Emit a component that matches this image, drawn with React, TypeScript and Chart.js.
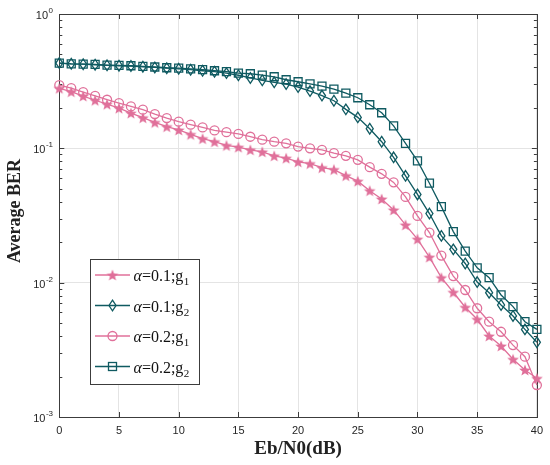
import { useEffect, useRef } from 'react'
import { Chart, registerables, type ChartConfiguration, type Plugin } from 'chart.js'

Chart.register(...registerables)

// Eb/N0 in dB
const snr = [
  0, 1, 2, 3, 4, 5, 6, 7, 8, 9, 10, 11, 12, 13, 14, 15, 16, 17, 18, 19, 20,
  21, 22, 23, 24, 25, 26, 27, 28, 29, 30, 31, 32, 33, 34, 35, 36, 37, 38, 39, 40,
]

// alpha = 0.1, g1 (stars)
const berA1G1 = [
  0.28, 0.264, 0.245, 0.228, 0.213, 0.199, 0.183, 0.169, 0.156, 0.145, 0.137,
  0.127, 0.118, 0.112, 0.105, 0.102, 0.0974, 0.0942, 0.0879, 0.0845, 0.0793,
  0.077, 0.0718, 0.0695, 0.0626, 0.057, 0.0484, 0.042, 0.0348, 0.0269, 0.0211,
  0.0155, 0.0109, 0.00848, 0.00656, 0.00534, 0.00401, 0.00338, 0.00269, 0.00224, 0.00194,
]

// alpha = 0.1, g2 (diamonds)
const berA1G2 = [
  0.431, 0.426, 0.423, 0.419, 0.415, 0.412, 0.41, 0.405, 0.4, 0.395, 0.391,
  0.385, 0.378, 0.372, 0.363, 0.35, 0.334, 0.321, 0.31, 0.301, 0.286,
  0.267, 0.247, 0.226, 0.195, 0.17, 0.14, 0.112, 0.0857, 0.0624, 0.0454,
  0.0327, 0.0223, 0.0177, 0.0139, 0.0101, 0.00842, 0.00682, 0.00565, 0.00449, 0.0036,
]

// alpha = 0.2, g1 (circles)
const berA2G1 = [
  0.295, 0.281, 0.262, 0.246, 0.23, 0.217, 0.205, 0.194, 0.18, 0.168, 0.158,
  0.15, 0.143, 0.136, 0.132, 0.128, 0.122, 0.116, 0.112, 0.109, 0.103,
  0.1, 0.0974, 0.0921, 0.0879, 0.0821, 0.0724, 0.0646, 0.0558, 0.0435, 0.0314,
  0.0236, 0.0159, 0.0112, 0.00882, 0.00645, 0.00512, 0.00431, 0.00343, 0.00281, 0.00173,
]

// alpha = 0.2, g2 (squares)
const berA2G2 = [
  0.431, 0.426, 0.424, 0.421, 0.417, 0.414, 0.412, 0.407, 0.403, 0.398, 0.396,
  0.391, 0.385, 0.378, 0.372, 0.363, 0.359, 0.351, 0.341, 0.324, 0.313,
  0.302, 0.29, 0.276, 0.258, 0.238, 0.211, 0.184, 0.147, 0.109, 0.0807,
  0.055, 0.0368, 0.024, 0.0172, 0.0129, 0.0109, 0.0081, 0.00663, 0.00512, 0.00449,
]

const xTicks = [0, 5, 10, 15, 20, 25, 30, 35, 40]
const yExponents = [0, -1, -2, -3]
const legendAlphas = ['0.1', '0.1', '0.2', '0.2']
const legendGains = ['1', '2', '1', '2']

const pink = '#e0709a'
const teal = '#0f5a61'
const axisColor = '#3c3c3c'
const gridColor = '#e4e4e4'

function makeStar() {
  const c = document.createElement('canvas')
  c.width = 14
  c.height = 14
  const ctx = c.getContext('2d')!
  ctx.fillStyle = pink
  ctx.beginPath()
  for (let i = 0; i < 10; i++) {
    const r = i % 2 === 0 ? 6.2 : 2.6
    const a = -Math.PI / 2 + (i * Math.PI) / 5
    const px = 7 + r * Math.cos(a)
    const py = 7.6 + r * Math.sin(a)
    if (i === 0) ctx.moveTo(px, py)
    else ctx.lineTo(px, py)
  }
  ctx.closePath()
  ctx.fill()
  return c
}

// tall hollow diamond, like the matlab 'd' marker
function strokeDiamond(ctx: CanvasRenderingContext2D, x: number, y: number) {
  ctx.beginPath()
  ctx.moveTo(x, y - 5.3)
  ctx.lineTo(x + 3.5, y)
  ctx.lineTo(x, y + 5.3)
  ctx.lineTo(x - 3.5, y)
  ctx.closePath()
  ctx.stroke()
}

const toPoints = (ys: number[]) => snr.map((x, i) => ({ x, y: ys[i] }))

const isMajor = (v: number) => Math.abs(Math.log10(v) - Math.round(Math.log10(v))) < 1e-6

const framePlugin: Plugin<'line'> = {
  id: 'frame',
  beforeDatasetsDraw(chart) {
    const { ctx, chartArea: a, scales } = chart
    const ys = scales.y
    const xs = scales.x
    ctx.save()
    ctx.strokeStyle = axisColor
    ctx.lineWidth = 1
    ctx.beginPath()
    // x ticks, inward on top and bottom
    xTicks.forEach((t) => {
      const px = Math.round(xs.getPixelForValue(t)) + 0.5
      ctx.moveTo(px, a.bottom)
      ctx.lineTo(px, a.bottom - 5)
      ctx.moveTo(px, a.top)
      ctx.lineTo(px, a.top + 5)
    })
    // y ticks, major and minor, on left and right
    for (let d = -3; d <= 0; d++) {
      for (let k = 1; k <= 9; k++) {
        const v = k * Math.pow(10, d)
        if (v > 1.0001) break
        const py = Math.round(ys.getPixelForValue(v)) + 0.5
        const len = k === 1 ? 5 : 3
        ctx.moveTo(a.left, py)
        ctx.lineTo(a.left + len, py)
        ctx.moveTo(a.right, py)
        ctx.lineTo(a.right - len, py)
      }
    }
    ctx.stroke()
    ctx.strokeRect(Math.round(a.left) + 0.5, Math.round(a.top) + 0.5, Math.round(a.right - a.left), Math.round(a.bottom - a.top))

    // y tick labels with superscript exponents
    ctx.fillStyle = '#262626'
    ctx.textBaseline = 'alphabetic'
    yExponents.forEach((e) => {
      const py = ys.getPixelForValue(Math.pow(10, e))
      const expText = e === 0 ? '0' : '-' + String(-e)
      ctx.font = '8px "Liberation Sans"'
      const ew = ctx.measureText(expText).width
      const right = 53
      ctx.textAlign = 'left'
      ctx.fillText(expText, right - ew, py - 1)
      ctx.font = '11px "Liberation Sans"'
      ctx.textAlign = 'right'
      ctx.fillText('10', right - ew - 0.5, py + 5)
    })

    // axis titles
    ctx.fillStyle = '#222'
    ctx.textAlign = 'center'
    ctx.textBaseline = 'middle'
    ctx.font = 'bold 19px "Liberation Serif"'
    ctx.fillText('Eb/N0(dB)', (a.left + a.right) / 2, 449)
    ctx.save()
    ctx.translate(15.5, 211)
    ctx.rotate(-Math.PI / 2)
    ctx.font = 'bold 18px "Liberation Serif"'
    ctx.fillText('Average BER', 0, 0)
    ctx.restore()
    ctx.restore()
  },
}

// diamonds for the second series, placed on the points chart.js laid out
const diamondPlugin: Plugin<'line'> = {
  id: 'diamonds',
  afterDatasetsDraw(chart) {
    const { ctx } = chart
    const meta = chart.getDatasetMeta(1)
    ctx.save()
    ctx.strokeStyle = teal
    ctx.lineWidth = 1.3
    meta.data.forEach((pt) => strokeDiamond(ctx, pt.x, pt.y))
    ctx.restore()
  },
}

const makeLegendPlugin = (star: HTMLCanvasElement): Plugin<'line'> => ({
  id: 'boxLegend',
  afterDraw(chart) {
    const { ctx } = chart
    const colors = [pink, teal, pink, teal]
    const left = 90.5
    const top = 259.5
    const w = 109
    const h = 125
    const rows = [275, 305.5, 336, 366.5]
    ctx.save()
    ctx.fillStyle = '#fff'
    ctx.fillRect(left, top, w, h)
    ctx.strokeStyle = axisColor
    ctx.lineWidth = 1
    ctx.strokeRect(left, top, w, h)
    rows.forEach((ry, i) => {
      ctx.strokeStyle = colors[i]
      ctx.lineWidth = 1.3
      ctx.beginPath()
      ctx.moveTo(95, ry)
      ctx.lineTo(130, ry)
      ctx.stroke()
      if (i === 0) {
        ctx.drawImage(star, 112.5 - star.width / 2, ry - star.height / 2)
      } else if (i === 1) {
        strokeDiamond(ctx, 112.5, ry)
      } else if (i === 2) {
        ctx.beginPath()
        ctx.arc(112.5, ry, 4.5, 0, Math.PI * 2)
        ctx.stroke()
      } else {
        ctx.strokeRect(108.5, ry - 4, 8, 8)
      }
      ctx.fillStyle = '#111'
      ctx.textBaseline = 'alphabetic'
      ctx.textAlign = 'left'
      let tx = 133.5
      const base = ry + 6
      ctx.font = 'italic 16px "Liberation Serif"'
      ctx.fillText('α', tx, base)
      tx += ctx.measureText('α').width
      ctx.font = '16px "Liberation Serif"'
      const mid = '=' + legendAlphas[i] + ';g'
      ctx.fillText(mid, tx, base)
      tx += ctx.measureText(mid).width
      ctx.font = '11px "Liberation Serif"'
      ctx.fillText(legendGains[i], tx + 0.5, base + 4)
    })
    ctx.restore()
  },
})

export default function App() {
  const canvasRef = useRef<HTMLCanvasElement | null>(null)

  useEffect(() => {
    if (!canvasRef.current) {
      return
    }

    const star = makeStar()

    const line = (data: number[], color: string, style: any, radius: number) => ({
      data: toPoints(data),
      borderColor: color,
      backgroundColor: 'rgba(0,0,0,0)',
      borderWidth: 1.3,
      pointStyle: style,
      pointRadius: radius,
      pointHoverRadius: radius,
      pointBorderWidth: 1.3,
      pointBorderColor: color,
      pointBackgroundColor: 'rgba(0,0,0,0)',
      tension: 0,
      clip: false as const,
    })

    const config: ChartConfiguration<'line'> = {
      type: 'line',
      data: {
        datasets: [
          line(berA1G1, pink, star, 5),
          line(berA1G2, teal, false, 0),
          line(berA2G1, pink, 'circle', 4.5),
          line(berA2G2, teal, 'rect', 5.66),
        ],
      },
      options: {
        responsive: true,
        maintainAspectRatio: false,
        animation: false,
        events: [],
        layout: { padding: { top: 14, right: 13, bottom: 0, left: 0 } },
        plugins: {
          legend: { display: false },
          tooltip: { enabled: false },
        },
        scales: {
          x: {
            type: 'linear',
            min: 0,
            max: 40,
            afterFit: (s) => {
              s.height = 48
            },
            afterBuildTicks: (s) => {
              s.ticks = xTicks.map((v) => ({ value: v }))
            },
            ticks: {
              color: '#262626',
              font: { family: 'Liberation Sans', size: 11 },
              padding: 7,
              maxRotation: 0,
            },
            grid: { color: gridColor, drawTicks: false, lineWidth: 1 },
            border: { display: false },
          },
          y: {
            type: 'logarithmic',
            min: 0.001,
            max: 1,
            afterFit: (s) => {
              s.width = 59.3
            },
            ticks: { display: false },
            grid: {
              drawTicks: false,
              lineWidth: 1,
              color: (c) => (c.tick && isMajor(c.tick.value) ? gridColor : 'rgba(0,0,0,0)'),
            },
            border: { display: false },
          },
        },
      },
      plugins: [framePlugin, diamondPlugin, makeLegendPlugin(star)],
    }

    const chart = new Chart(canvasRef.current, config)

    return () => {
      chart.destroy()
    }
  }, [])

  return (
    <div style={{ position: 'absolute', left: 0, top: 0, width: 550, height: 465, background: '#fff' }}>
      <canvas ref={canvasRef} aria-label="Average BER versus Eb/N0 chart" />
    </div>
  )
}
